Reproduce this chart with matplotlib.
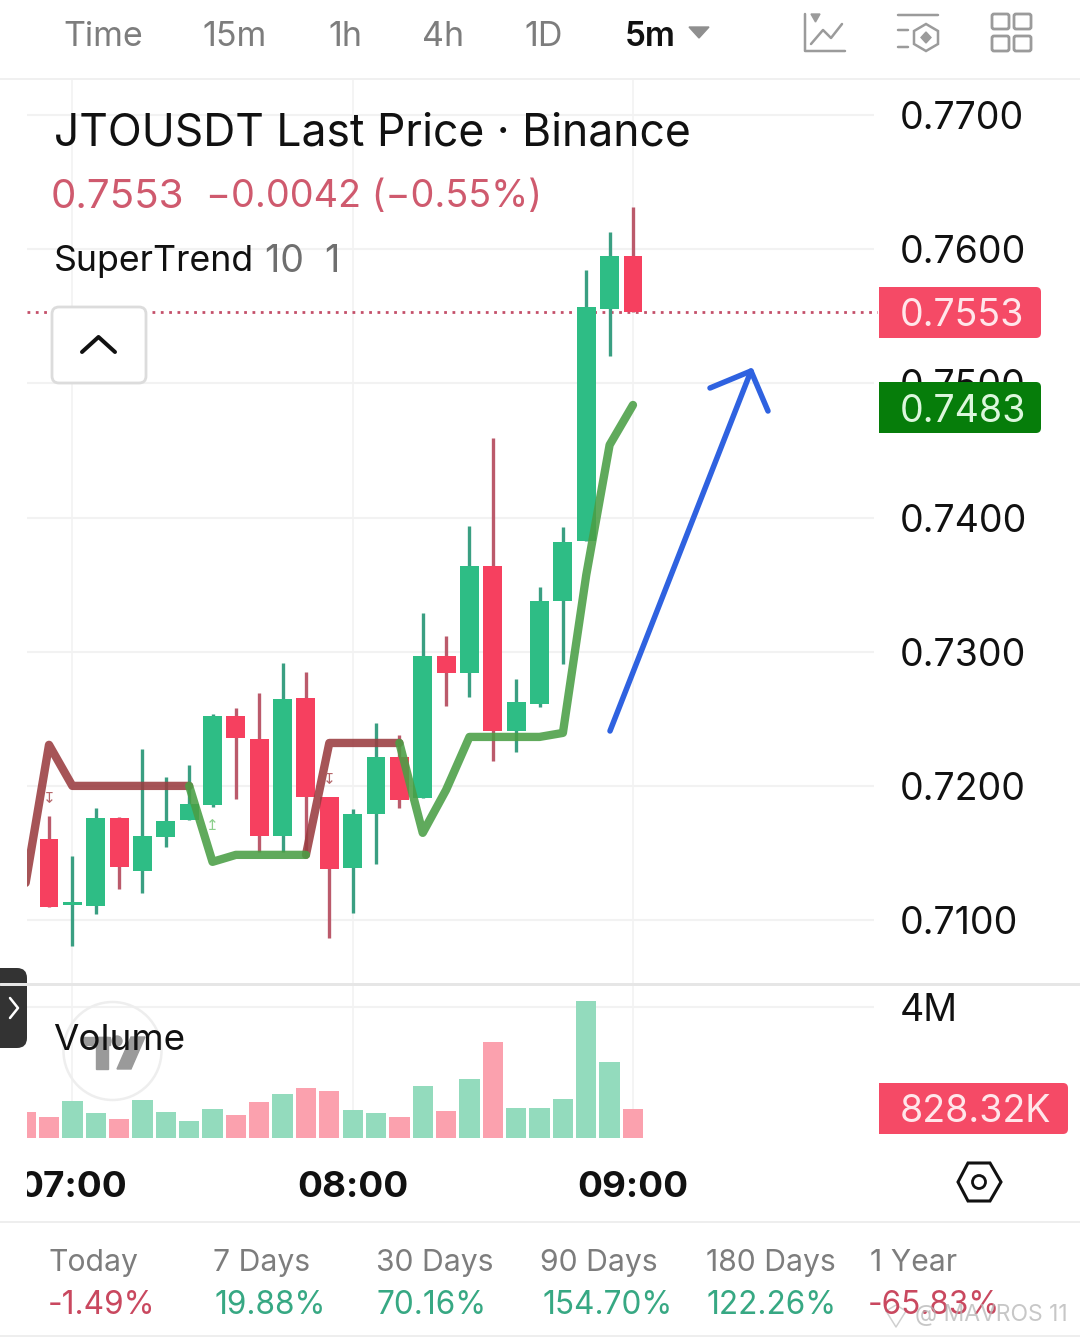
import matplotlib
matplotlib.use('Agg')
import matplotlib.pyplot as plt
from matplotlib.patches import Circle, FancyBboxPatch, Polygon, Rectangle
from matplotlib.transforms import Bbox

plt.rcParams['font.family'] = ['Inter', 'DejaVu Sans']

# candles, index 0 is the first full candle, 12 candles an hour
opens = [.71605, .71113, .71106, .71762, .71364, .71618, .71747, .71856, .72522, .72350,
         .71627, .72658, .71918, .71387, .71789, .72216, .71908, .72969, .72840, .73639,
         .72412, .72613, .73376, .73828, .75557, .75949]
closes = [.71098, .71136, .71762, .71394, .71627, .71739, .71866, .72524, .72355, .71627,
          .72648, .71918, .71379, .71791, .72216, .71896, .72969, .72840, .73639, .72408,
          .72624, .73379, .73818, .75569, .75949, .75530]
highs = [.71776, .71478, .71836, .71769, .72276, .72069, .72156, .72537, .72581, .72695,
         .72919, .72847, .71918, .71826, .72472, .72380, .73291, .73118, .73937, .74591,
         .72797, .73485, .73932, .75845, .76126, .76312]
lows = [.71098, .70808, .71046, .71232, .71203, .71543, .71747, .71841, .71901, .71510,
        .71510, .71473, .70865, .71051, .71417, .71834, .71908, .72596, .72661, .72184,
        .72251, .72586, .72907, .73828, .75206, .75530]

# supertrend starts one candle before the first one (cut by the left edge)
st_index = list(range(-1, 26))
st_values = [.71277, .72306, .72000, .72000, .72000, .72000, .72000, .72000, .71434, .71486,
             .71486, .71486, .71486, .72320, .72320, .72320, .72320, .71650, .71970, .72365,
             .72365, .72365, .72365, .72395, .73572, .74541, .74839]
st_red_runs = [(-1, 6), (11, 15)]
st_green_runs = [(6, 11), (15, 25)]

flag_index = [0, 7, 12]
flag_prices = [.71911, .71702, .72052]
flag_glyphs = ['\u21a7', '\u21a5', '\u21a7']
flag_colors = ['#b5666a', '#8ccf8c', '#b5666a']

# volume in millions, also starts one candle early
vol_index = list(range(-1, 26))
volumes = [.77, .62, 1.11, .745, .56, 1.14, .775, .50, .87, .68, 1.08, 1.33, 1.51, 1.42,
           .84, .745, .62, 1.57, .81, 1.79, 2.92, .90, .90, 1.17, 4.19, 2.31, .87]
vol_up = [0, 0, 1, 1, 0, 1, 1, 1, 1, 0, 0, 1, 0, 0, 1, 1, 0, 1, 0, 1, 0, 1, 1, 1, 1, 1, 0]

price_ticks = [.77, .76, .75, .74, .73, .72, .71]
price_labels = ['0.7700', '0.7600', '0.7500', '0.7400', '0.7300', '0.7200', '0.7100']
time_index = [1, 13, 25]
time_labels = ['07:00', '08:00', '09:00']
last_price = .7553

tabs = ['Time', '15m', '1h', '4h', '1D']
tab_x = [63, 202, 328, 422, 524]
periods = ['Today', '7 Days', '30 Days', '90 Days', '180 Days', '1 Year']
period_x = [49, 213, 376, 540, 706, 870]
returns = ['-1.49%', '19.88%', '70.16%', '154.70%', '122.26%', '-65.83%']
returns_x = [48, 214, 377, 542, 706, 868]
return_colors = ['#c9485f', '#37a883', '#37a883', '#37a883', '#37a883', '#c9485f']

arrow_x = [610, 751]
arrow_y = [731, 371]
arrow_head_x = [710, 751, 768]
arrow_head_y = [388, 371, 411]

UP = '#2ebd85'
DOWN = '#f6405f'
WICK_UP = '#3a9f82'
WICK_DOWN = '#bb5a6b'
GRID = '#f2f2f2'
W, H = 1080, 1338


def box(top, bottom):
    return [27 / W, 1 - bottom / H, 851 / W, (bottom - top) / H]


fig = plt.figure(figsize=(W / 100, H / 100), dpi=100, facecolor='white')

# price panel
ax = fig.add_axes(box(80, 983))
ax.set_xlim(-0.942, 35.49)
ax.set_ylim(.70531, .77261)
for s in ax.spines.values():
    s.set_visible(False)
ax.hlines(price_ticks, -0.942, 35.3, color=GRID, lw=1.5, zorder=0)
ax.vlines(time_index, .70531, .77261, color=GRID, lw=1.2, zorder=0)
ax.hlines(last_price, -0.942, 35.49, color='#c4506a', lw=2.0, linestyles=(0, (1, 2)), zorder=1)

for i in range(len(opens)):
    up = closes[i] >= opens[i]
    ax.vlines(i, lows[i], highs[i], color=WICK_UP if up else WICK_DOWN, lw=2.4, zorder=2)
    ax.bar(i, abs(closes[i] - opens[i]), bottom=min(opens[i], closes[i]), width=0.81,
           color=UP if up else DOWN, zorder=3)

for runs, col in [(st_red_runs, '#9a3c40'), (st_green_runs, '#4a9f45')]:
    for a, b in runs:
        xs = st_index[a + 1:b + 2]
        ys = st_values[a + 1:b + 2]
        ax.plot(xs, ys, color=col, lw=6.0, alpha=0.88, solid_capstyle='round',
                solid_joinstyle='round', zorder=4)

for i, p, g, c in zip(flag_index, flag_prices, flag_glyphs, flag_colors):
    ax.text(i, p, g, color=c, fontsize=11, ha='center', va='center', family='DejaVu Sans', zorder=5)

ax.set_xticks([])
ax.yaxis.tick_right()
ax.set_yticks(price_ticks, price_labels)
ax.tick_params(axis='y', length=0, pad=16, labelsize=27, labelcolor='#111111')

# volume panel
vax = fig.add_axes(box(985, 1137.5))
vax.set_xlim(-0.942, 35.49)
vax.set_ylim(0, 4.674)
for s in vax.spines.values():
    s.set_visible(False)
vax.hlines([4], -0.942, 35.3, color=GRID, lw=1.5, zorder=0)
vax.vlines(time_index, 0, 4.674, color=GRID, lw=1.2, zorder=0)
vax.bar(vol_index, volumes, width=0.87, color=['#93dbbd' if u else '#fba1ae' for u in vol_up], zorder=2)
vax.yaxis.tick_right()
vax.set_yticks([4], ['4M'])
vax.tick_params(axis='y', length=0, pad=16, labelsize=27, labelcolor='#111111')
vax.set_xticks(time_index, time_labels)
vax.tick_params(axis='x', length=0, pad=24, labelsize=26.5, labelcolor='#111111')
for lab in vax.get_xticklabels():
    lab.set_fontweight('bold')
    lab.set_clip_on(True)
    lab.set_clip_box(Bbox([[27, 0], [W, H]]))

# everything around the chart, in picture pixels
ui = fig.add_axes([0, 0, 1, 1], zorder=5)
ui.set_xlim(0, W)
ui.set_ylim(H, 0)
ui.axis('off')


def line(xs, ys, color='#9b9b9b', px=2.5, **kw):
    ui.plot(xs, ys, color=color, lw=px * 0.72, solid_capstyle='round', solid_joinstyle='round', **kw)


def rbox(x, y, w, h, r, **kw):
    ui.add_patch(FancyBboxPatch((x + r, y + r), w - 2 * r, h - 2 * r,
                                boxstyle='round,pad=%s,rounding_size=%s' % (r, r), **kw))


# header
line([0, W], [79, 79], color='#f0f0f0', px=2)
for t, x in zip(tabs, tab_x):
    ui.text(x, 33, t, fontsize=24.5, color='#7d7d7d', va='center_baseline', ha='left')
ui.text(625, 33, '5m', fontsize=24, color='#111111', va='center_baseline', fontweight='semibold')
ui.add_patch(Polygon([(689, 27), (709, 27), (699, 38)], color='#8f8f8f'))

line([805, 805, 845], [14, 51, 51])
line([811, 823, 831, 842], [44, 30, 38, 24])
ui.add_patch(Polygon([(811, 14), (820, 14), (815.5, 22)], color='#9b9b9b'))
line([898, 938], [15, 15])
line([898, 908], [30, 30])
line([898, 908], [47, 47])
ui.add_patch(Polygon([(926, 24), (938, 31), (938, 44), (926, 51), (914, 44), (914, 31)],
                     fill=False, ec='#9b9b9b', lw=1.8))
ui.add_patch(Polygon([(926, 32), (931, 37.5), (926, 43), (921, 37.5)], color='#9b9b9b'))
for x in (992, 1014):
    for y in (14, 36):
        rbox(x, y, 17, 15, 2, fill=False, ec='#9b9b9b', lw=2.0)

# titles
ui.text(54, 129, 'JTOUSDT Last Price \u00b7 Binance', fontsize=32, color='#111111', va='center_baseline')
ui.text(51, 193, '0.7553', fontsize=29, color='#cf5a6e', va='center_baseline')
ui.text(206, 193, '\u22120.0042 (\u22120.55%)', fontsize=27.2, color='#cf5a6e', va='center_baseline')
ui.text(54, 258, 'SuperTrend', fontsize=25.7, color='#111111', va='center_baseline')
ui.text(265, 258, '10  1', fontsize=27, color='#6f6f6f', va='center_baseline')

# collapse button
rbox(52, 307, 94, 76, 7, fc='white', ec='#dcdcdc', lw=2.0)
line([82, 98.5, 115], [352, 337, 352], color='#111111', px=4)

# hand drawn arrow
line(arrow_x, arrow_y, color='#2f62e0', px=5.5)
line(arrow_head_x, arrow_head_y, color='#2f62e0', px=5.5)

# price tags
for top, fc, tc, txt in [(287, '#f54a66', '#ffe6ea', '0.7553'), (382, '#067d0a', '#dcf7dc', '0.7483')]:
    rbox(879, top, 162, 51, 5, fc=fc, ec='none')
    ui.add_patch(Rectangle((879, top), 10, 51, fc=fc, ec='none'))
    ui.text(900, top + 25.5, txt, fontsize=27, color=tc, va='center_baseline')
rbox(879, 1083, 189, 51, 5, fc='#f54a66', ec='none')
ui.add_patch(Rectangle((879, 1083), 10, 51, fc='#f54a66', ec='none'))
ui.text(900, 1108.5, '828.32K', fontsize=27, color='#ffe6ea', va='center_baseline')

# left drawer tab
rbox(-12, 968, 39, 80, 10, fc='#333333', ec='none')
line([10, 18, 10], [998, 1008, 1018], color='white', px=2.5)

# tradingview mark under the volume title
ui.add_patch(Circle((112.5, 1051), 49, fc='none', ec='#eeeeee', lw=1.8))
ui.add_patch(Rectangle((82, 1037), 28, 8, color='#9a9a9a'))
ui.add_patch(Rectangle((96, 1037), 12, 32, color='#9a9a9a'))
ui.add_patch(Circle((117, 1041), 5, color='#9a9a9a'))
ui.add_patch(Polygon([(117, 1069), (131, 1069), (145, 1037), (131, 1037)], color='#9a9a9a'))
ui.text(53, 1037, 'Volume', fontsize=26.5, color='#111111', va='center_baseline')

# time axis separators and settings icon
line([0, W], [984, 984], color='#e6e6e6', px=3)
ui.add_patch(Polygon([(958, 1182), (968, 1163), (990, 1163), (1001, 1182), (990, 1201), (968, 1201)],
                     fill=False, ec='#111111', lw=2.2))
ui.add_patch(Circle((979, 1182), 6.5, fill=False, ec='#111111', lw=2.0))
line([0, W], [1222, 1222], color='#eeeeee', px=2)
line([0, W], [1336, 1336], color='#eeeeee', px=2)

# footer
for t, x in zip(periods, period_x):
    ui.text(x, 1260, t, fontsize=21.7, color='#7d7d7d', va='center_baseline')
for t, x, c in zip(returns, returns_x, return_colors):
    ui.text(x, 1302, t, fontsize=22.7, color=c, va='center_baseline')

# watermark
ui.text(915, 1313, '@ MAVROS 11', fontsize=16.5, color='#b5b5b5', alpha=0.75, va='center_baseline')
line([886, 896, 906, 896, 886], [1311, 1327, 1311, 1305, 1311], color='#cfcfcf', px=1.5)

fig.savefig('out.png', dpi=100)
